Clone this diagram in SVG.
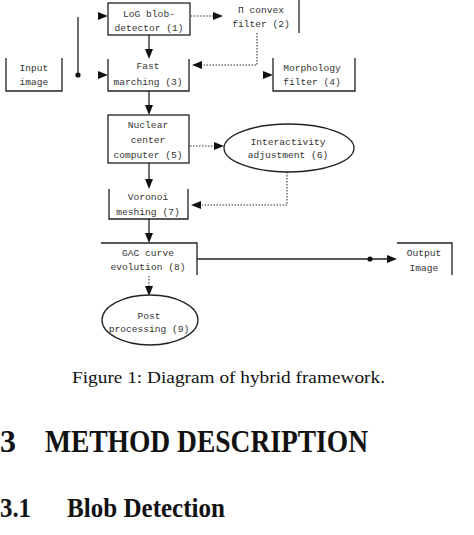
<svg xmlns="http://www.w3.org/2000/svg" xmlns:xlink="http://www.w3.org/1999/xlink" width="474" height="535" viewBox="0 0 474 535">
<style>
.e{stroke:#222;stroke-width:1.3;fill:none}
.ell{stroke:#222;stroke-width:1.3;fill:#fff}
.c{stroke:#222;stroke-width:1.3;fill:none}
.d{stroke:#333;stroke-width:1.1;fill:none;stroke-dasharray:1.5 1.5}
.t{font-family:"Liberation Mono","DejaVu Sans Mono",monospace;font-size:9.6px;fill:#333;text-anchor:middle}
.ah{fill:#111}
.cap{font-family:"Liberation Serif","Times New Roman",serif;fill:#111}
</style>
<defs>
<path id="ah" d="M0,0 L-10,-4 L-10,4 Z"/>
</defs>
<rect width="474" height="535" fill="#fff"/>

<g id="connectors">
  <line class="c" x1="149" y1="35" x2="149" y2="50"/>
  <use href="#ah" class="ah" transform="translate(149,59) rotate(90)"/>
  <line class="c" x1="149" y1="91" x2="149" y2="106"/>
  <use href="#ah" class="ah" transform="translate(149,115) rotate(90)"/>
  <line class="c" x1="149" y1="163" x2="149" y2="180"/>
  <use href="#ah" class="ah" transform="translate(149,189) rotate(90)"/>
  <line class="c" x1="149" y1="219" x2="149" y2="234"/>
  <use href="#ah" class="ah" transform="translate(149,243) rotate(90)"/>
  <line class="d" x1="149" y1="276" x2="149" y2="287"/>
  <use href="#ah" class="ah" transform="translate(149,296) rotate(90)"/>

  <line class="d" x1="191" y1="16" x2="214" y2="16"/>
  <use href="#ah" class="ah" transform="translate(223,16)"/>
  <polyline class="d" points="257,33 257,65 202,65"/>
  <use href="#ah" class="ah" transform="translate(192,65) rotate(180)"/>

  <line class="c" x1="78" y1="17" x2="78" y2="75"/>
  <circle cx="78" cy="75" r="2.6" fill="#111"/>
  <use href="#ah" class="ah" transform="translate(108,16)"/>
  <use href="#ah" class="ah" transform="translate(108,75)"/>
  <use href="#ah" class="ah" transform="translate(273,75)"/>

  <line class="d" x1="190" y1="146" x2="215" y2="146"/>
  <use href="#ah" class="ah" transform="translate(224,146)"/>
  <polyline class="d" points="287,172 287,205 202,205"/>
  <use href="#ah" class="ah" transform="translate(191,205) rotate(180)"/>

  <line class="c" x1="197" y1="259" x2="387" y2="259"/>
  <circle cx="370" cy="259" r="2.6" fill="#111"/>
  <use href="#ah" class="ah" transform="translate(397,259)"/>
</g>

<g id="n1">
  <rect class="e" x="108" y="3" width="82" height="32"/>
  <text class="t" x="149" y="17">LoG blob-</text>
  <text class="t" x="149" y="31">detector (1)</text>
</g>
<g id="n2">
  <line class="e" x1="299" y1="0" x2="299" y2="33"/>
  <text class="t" x="261" y="13">Π convex</text>
  <text class="t" x="261" y="27">filter (2)</text>
</g>
<g id="n-input">
  <polyline class="e" points="6,58 6,91 62,91 62,58"/>
  <text class="t" x="34" y="71">Input</text>
  <text class="t" x="34" y="85">image</text>
</g>
<g id="n3">
  <polyline class="e" points="108,59 108,91 189,91 189,59"/>
  <text class="t" x="148" y="69">Fast</text>
  <text class="t" x="148" y="85">marching (3)</text>
</g>
<g id="n4">
  <polyline class="e" points="273,58 273,91 355,91 355,58"/>
  <text class="t" x="312" y="71">Morphology</text>
  <text class="t" x="312" y="85">filter (4)</text>
</g>
<g id="n5">
  <rect class="e" x="108" y="115" width="81" height="48"/>
  <text class="t" x="148" y="128">Nuclear</text>
  <text class="t" x="148" y="143">center</text>
  <text class="t" x="148" y="158">computer (5)</text>
</g>
<g id="n6">
  <ellipse class="ell" cx="289" cy="148" rx="65" ry="24"/>
  <text class="t" x="288" y="145">Interactivity</text>
  <text class="t" x="288" y="158">adjustment (6)</text>
</g>
<g id="n7">
  <polyline class="e" points="109,189 109,219 188,219 188,189"/>
  <text class="t" x="148" y="200">Voronoi</text>
  <text class="t" x="148" y="215">meshing (7)</text>
</g>
<g id="n8">
  <polyline class="e" points="101,243 197,243 197,275"/>
  <text class="t" x="148" y="256">GAC curve</text>
  <text class="t" x="148" y="270">evolution (8)</text>
</g>
<g id="n9">
  <ellipse class="ell" cx="150" cy="320" rx="48" ry="25"/>
  <text class="t" x="149" y="319">Post</text>
  <text class="t" x="149" y="332">processing (9)</text>
</g>
<g id="n-output">
  <polyline class="e" points="397,243 452,243 452,275"/>
  <text class="t" x="424" y="256">Output</text>
  <text class="t" x="424" y="271">Image</text>
</g>

<text class="cap" x="72" y="383" font-size="17" textLength="313" lengthAdjust="spacingAndGlyphs">Figure 1: Diagram of hybrid framework.</text>
<text class="cap" x="0" y="452" font-size="32" font-weight="bold">3</text>
<text class="cap" x="45" y="452" font-size="32" font-weight="bold" textLength="323" lengthAdjust="spacingAndGlyphs">METHOD DESCRIPTION</text>
<text class="cap" x="0" y="517" font-size="27" font-weight="bold" textLength="31" lengthAdjust="spacingAndGlyphs">3.1</text>
<text class="cap" x="67" y="517" font-size="27" font-weight="bold" textLength="158" lengthAdjust="spacingAndGlyphs">Blob Detection</text>
</svg>
